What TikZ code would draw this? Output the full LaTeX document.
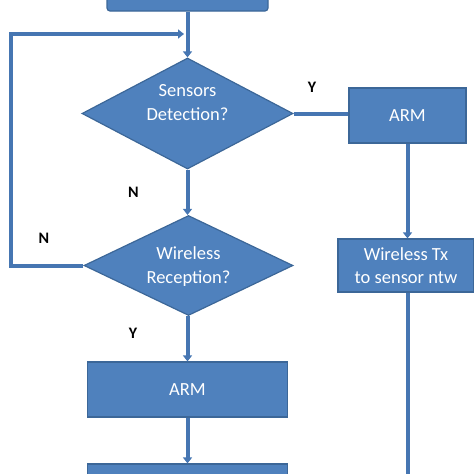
\documentclass[tikz,border=0pt]{standalone}
\usepackage{fontspec}
\setmainfont{Carlito}
\usetikzlibrary{shapes.geometric,arrows.meta}
\definecolor{boxfill}{HTML}{4F81BD}
\definecolor{boxedge}{HTML}{3C6798}
\definecolor{lineblue}{HTML}{4676B2}
\tikzset{
  stepbox/.style={rectangle, fill=boxfill, draw=boxedge, line width=1.2pt, text=white, font=\fontsize{18.5}{23}\selectfont, align=center, inner sep=0pt},
  decision/.style={diamond, fill=boxfill, draw=boxedge, line width=1.2pt, inner sep=0pt},
  dtext/.style={text=white, font=\fontsize{18.5}{23.5}\selectfont, align=center, inner sep=0pt},
  conn/.style={draw=lineblue, line width=4pt},
  arr/.style={conn, -{Triangle[width=9pt,length=6pt]}},
  lbl/.style={font=\fontsize{16}{16}\selectfont\bfseries, text=black}
}
\begin{document}
\begin{tikzpicture}[x=1pt,y=-1pt]
\useasboundingbox (0,0) rectangle (474,474);
% nodes
\node[stepbox, rounded corners=3pt, minimum width=161pt, minimum height=26pt] (top) at (187.5,-2) {};
\node[decision, minimum width=211pt, minimum height=111pt,
      label={[dtext, yshift=11pt]center:Sensors\\Detection?}] (d1) at (187.5,113.5) {};
\node[decision, minimum width=209pt, minimum height=100pt,
      label={[dtext, yshift=-1pt]center:Wireless\\Reception?}] (d2) at (188.5,265.5) {};
\node[stepbox, minimum width=117pt, minimum height=55pt] (arm1) at (407.5,115.5) {ARM};
\node[stepbox, minimum width=136pt, minimum height=53pt] (tx) at (406,265.5) {Wireless Tx\\to sensor ntw};
\node[stepbox, minimum width=200pt, minimum height=55pt] (arm2) at (187.5,389.5) {ARM};
\node[stepbox, minimum width=200pt, minimum height=30pt] (bot) at (187.5,479) {};
% free ends
\coordinate (loopend) at (184,34);
\coordinate (offpage) at (407.5,480);
% connectors
\draw[arr] (top.south) -- (d1.north);
\draw[arr] (d2.west) -- (11,265.5) -- (11,34) -- (loopend);
\draw[conn] (d1.east) -- (d1.east -| arm1.west);
\draw[arr] (arm1.south) -- (arm1.south |- tx.north);
\draw[conn] (arm1.south |- tx.south) -- (offpage);
\draw[arr] (d1.south) -- (d2.north -| d1.south);
\draw[arr] (d2.south -| d1.south) -- (arm2.north);
\draw[arr] (arm2.south) -- (bot.north);
% labels
\node[lbl] (ly1) at (312,87) {Y};
\node[lbl] (ln1) at (133.5,192) {N};
\node[lbl] (ln2) at (44,238) {N};
\node[lbl] (ly2) at (133,333) {Y};
\end{tikzpicture}
\end{document}
